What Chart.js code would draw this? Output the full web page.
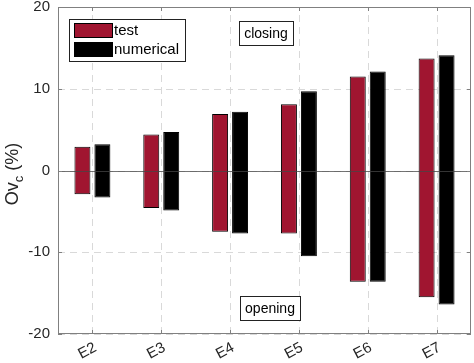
<!DOCTYPE html>
<html>
<head>
<meta charset="utf-8">
<script src="https://cdn.jsdelivr.net/npm/chart.js@4"></script>
<style>
  html, body { margin: 0; padding: 0; background: #fff; }
  #wrap { width: 474px; height: 363px; }
</style>
</head>
<body>
<div id="wrap"><canvas id="ovChart"></canvas></div>
<script>
const categories = ['E2', 'E3', 'E4', 'E5', 'E6', 'E7'];
const testLow = [-2.9, -4.6, -7.5, -7.7, -13.6, -15.5];
const testHigh = [2.9, 4.4, 6.9, 8.1, 11.5, 13.7];
const numLow = [-3.3, -4.9, -7.7, -10.5, -13.6, -16.4];
const numHigh = [3.2, 4.7, 7.2, 9.7, 12.1, 14.1];
const yTicks = [-20, -10, 0, 10, 20];

const FONT = 'Liberation Sans, Arial, sans-serif';
const AXIS_GRAY = '#808080';
const TEXT = '#262626';

const pairs = (lo, hi) => lo.map((v, i) => [v, hi[i]]);

// dashed grid, zero line, axes box, inward ticks, labels, legend, notes
const decor = {
  id: 'decor',
  beforeDatasetsDraw(chart) {
    const { ctx, chartArea: a, scales } = chart;
    ctx.save();
    ctx.strokeStyle = '#d9d9d9';
    ctx.lineWidth = 1;
    ctx.setLineDash([7, 5]);
    ctx.beginPath();
    yTicks.forEach(v => {
      const y = Math.round(scales.y.getPixelForValue(v)) + 0.5;
      ctx.moveTo(a.left, y); ctx.lineTo(a.right, y);
    });
    categories.forEach((c, i) => {
      const x = Math.round(scales.x.getPixelForValue(i)) + 0.5;
      ctx.moveTo(x, a.bottom); ctx.lineTo(x, a.top);
    });
    ctx.stroke();
    ctx.restore();
  },
  afterDatasetsDraw(chart) {
    const { ctx, chartArea: a, scales } = chart;
    const y0 = Math.round(scales.y.getPixelForValue(0)) + 0.5;
    ctx.save();
    ctx.strokeStyle = 'rgba(70,70,70,0.75)';
    ctx.lineWidth = 1;
    ctx.beginPath();
    ctx.moveTo(a.left, y0);
    ctx.lineTo(a.right, y0);
    ctx.stroke();
    ctx.restore();
  },
  afterDraw(chart) {
    const { ctx, chartArea: a, scales } = chart;
    ctx.save();
    // axes box
    ctx.strokeStyle = AXIS_GRAY;
    ctx.lineWidth = 1;
    ctx.strokeRect(a.left + 0.5, a.top + 0.5, a.right - a.left - 1, a.bottom - a.top - 1);
    // inward ticks
    ctx.beginPath();
    yTicks.forEach(v => {
      const y = Math.round(scales.y.getPixelForValue(v)) + 0.5;
      ctx.moveTo(a.left, y); ctx.lineTo(a.left + 4, y);
      ctx.moveTo(a.right, y); ctx.lineTo(a.right - 4, y);
    });
    categories.forEach((c, i) => {
      const x = Math.round(scales.x.getPixelForValue(i)) + 0.5;
      ctx.moveTo(x, a.bottom); ctx.lineTo(x, a.bottom - 4);
      ctx.moveTo(x, a.top); ctx.lineTo(x, a.top + 4);
    });
    ctx.stroke();

    // rotated category labels
    ctx.fillStyle = TEXT;
    ctx.font = '15px ' + FONT;
    ctx.textAlign = 'center';
    ctx.textBaseline = 'middle';
    categories.forEach((c, i) => {
      const x = scales.x.getPixelForValue(i);
      ctx.save();
      ctx.translate(x - 5, a.bottom + 17);
      ctx.rotate(-Math.PI / 180 * 28);
      ctx.fillText(c, 0, 0);
      ctx.restore();
    });

    // legend
    ctx.fillStyle = '#fff';
    ctx.fillRect(69, 19, 116, 42);
    ctx.strokeStyle = '#222';
    ctx.strokeRect(69.5, 19.5, 116, 42);
    chart.data.datasets.forEach((ds, i) => {
      const yy = 23 + i * 19;
      ctx.fillStyle = ds.backgroundColor;
      ctx.fillRect(74, yy, 38, 14);
      ctx.strokeStyle = '#000';
      ctx.strokeRect(74.5, yy + 0.5, 38, 14);
      ctx.fillStyle = '#000';
      ctx.font = '15px ' + FONT;
      ctx.textBaseline = 'middle';
      ctx.textAlign = 'left';
      ctx.fillText(ds.label, 114, yy + 8);
    });

    // annotation boxes
    const box = (text, x, y, w, h) => {
      ctx.fillStyle = '#fff';
      ctx.fillRect(x, y, w, h);
      ctx.strokeStyle = '#222';
      ctx.strokeRect(x + 0.5, y + 0.5, w, h);
      ctx.fillStyle = '#000';
      ctx.font = '14px ' + FONT;
      ctx.textAlign = 'center';
      ctx.textBaseline = 'middle';
      ctx.fillText(text, x + w / 2, y + h / 2 + 1);
    };
    box('closing', 239, 21, 54, 24);
    box('opening', 240, 296, 60, 24);

    // y title with subscript
    ctx.translate(13, 174);
    ctx.rotate(-Math.PI / 2);
    ctx.fillStyle = TEXT;
    ctx.textBaseline = 'middle';
    ctx.textAlign = 'left';
    ctx.font = '18px ' + FONT;
    const w1 = ctx.measureText('Ov').width;
    ctx.font = '13px ' + FONT;
    const w2 = ctx.measureText('c').width;
    ctx.font = '18px ' + FONT;
    const w3 = ctx.measureText(' (%)').width;
    let x = -(w1 + w2 + w3) / 2;
    ctx.fillText('Ov', x, 0);
    x += w1;
    ctx.font = '13px ' + FONT;
    ctx.fillText('c', x, 6);
    x += w2;
    ctx.font = '18px ' + FONT;
    ctx.fillText(' (%)', x, 0);
    ctx.restore();
  }
};

new Chart(document.getElementById('ovChart'), {
  type: 'bar',
  data: {
    labels: categories,
    datasets: [
      {
        label: 'test',
        data: pairs(testLow, testHigh),
        backgroundColor: '#A01530',
        borderColor: '#000',
        borderWidth: 1,
        borderSkipped: false,
        categoryPercentage: 0.58,
        barPercentage: 0.8,
      },
      {
        label: 'numerical',
        data: pairs(numLow, numHigh),
        backgroundColor: '#000',
        borderColor: '#000',
        borderWidth: 1,
        borderSkipped: false,
        categoryPercentage: 0.58,
        barPercentage: 0.8,
      },
    ],
  },
  options: {
    responsive: true,
    maintainAspectRatio: false,
    animation: false,
    layout: { padding: { top: 7, right: 3, left: 0, bottom: 0 } },
    plugins: { legend: { display: false }, tooltip: { enabled: false } },
    scales: {
      x: {
        afterFit: s => { s.height = 29; },
        grid: { display: false },
        border: { display: false },
        ticks: { display: false },
      },
      y: {
        min: -20,
        max: 20,
        afterFit: s => { s.width = 58; s.paddingTop = 0; s.paddingBottom = 0; },
        afterBuildTicks: s => { s.ticks = yTicks.map(v => ({ value: v })); },
        grid: { display: false },
        border: { display: false },
        ticks: {
          color: TEXT,
          font: { family: FONT, size: 15 },
          padding: 0,
        },
      },
    },
  },
  plugins: [decor],
});
</script>
</body>
</html>
